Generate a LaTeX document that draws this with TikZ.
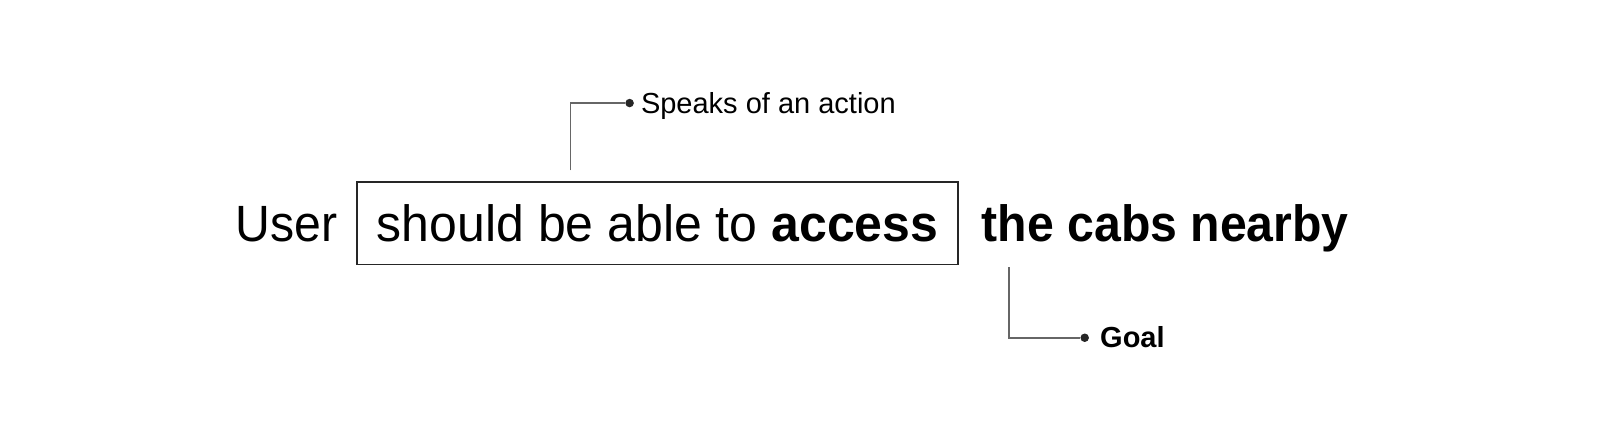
\documentclass[tikz,border=0pt]{standalone}
\usepackage{fontspec}
\setmainfont{Liberation Sans}
\newcommand{\bigtxt}[1]{\scalebox{0.945}[1]{#1}}
\newcommand{\boxtxt}[1]{\scalebox{0.98}[1]{#1}}
\begin{document}
\begin{tikzpicture}[x=1.0204pt,y=1.0204pt,
  big/.style={inner sep=0pt, font=\fontsize{51}{60}\selectfont},
  small/.style={inner sep=0pt, font=\fontsize{29}{34}\selectfont},
  wordbox/.style={draw=black!85, line width=1.5pt, inner ysep=0pt, inner xsep=0pt,
    text height=59.2pt, text depth=23.5pt, minimum width=601pt, font=\fontsize{51}{60}\selectfont},
  lead/.style={draw=black!60, line width=1.5pt},
  dot/.style={circle, fill=black!85, inner sep=0pt, minimum size=8.5pt}]
\useasboundingbox (0,0) rectangle (1568,427.3);
\node[big, anchor=base west] (user) at (231,191) {\bigtxt{User}};
\node[wordbox, anchor=base] (box) at (644.5,191) {\boxtxt{should be able to \textbf{access}}};
\node[big, anchor=base west] (goaltext) at (962,191) {\bigtxt{\textbf{the cabs nearby}}};
% upper callout
\coordinate (a1) at (559,260.3);
\coordinate (a2) at (559,326.3);
\node[dot] (d1) at (617,326.3) {};
\node[small, anchor=base west] (speaks) at (628,316.3) {Speaks of an action};
\draw[lead] (a1) -- (a2) -- (d1);
% lower callout
\coordinate (b1) at (989,165.3);
\coordinate (b2) at (989,96.3);
\node[dot] (d2) at (1063,96.3) {};
\node[small, anchor=base west] (goal) at (1078,86.3) {\textbf{Goal}};
\draw[lead] (b1) -- (b2) -- (d2);
\end{tikzpicture}
\end{document}
